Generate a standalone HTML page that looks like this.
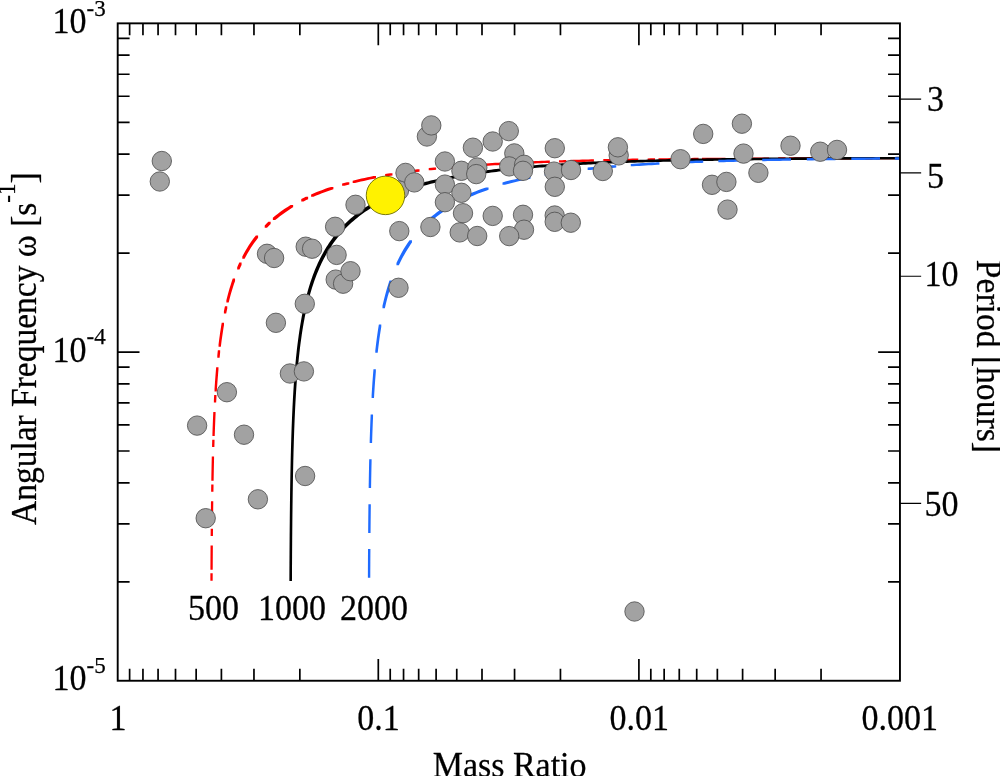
<!DOCTYPE html>
<html><head><meta charset="utf-8"><title>Angular Frequency vs Mass Ratio</title>
<style>html,body{margin:0;padding:0;background:#fff;}svg{display:block;}</style>
</head><body>
<svg width="1000" height="776" viewBox="0 0 1000 776">
<defs><clipPath id="pc"><rect x="117.7" y="23.35" width="781.8000000000001" height="657.4"/></clipPath></defs>
<rect width="1000" height="776" fill="#fff"/>
<g clip-path="url(#pc)" stroke="none">
<path d="M210.37,578.40L210.38,575.29L210.39,573.30L212.69,573.30L212.69,575.60L212.68,577.59L212.67,580.70L210.37,580.70ZM210.42,567.37L210.44,564.34L210.45,561.30L210.47,558.07L210.49,555.06L210.51,551.94L210.53,548.72L210.55,545.56L212.85,545.56L212.85,547.86L212.83,551.02L212.81,554.24L212.79,557.36L212.77,560.37L212.75,563.60L212.74,566.64L212.72,569.67L210.42,569.67ZM210.64,533.80L210.67,530.37L210.68,528.70L212.98,528.70L212.98,531.00L212.97,532.67L212.94,536.10L210.64,536.10ZM210.73,522.82L210.77,519.39L210.80,516.32L210.83,513.26L210.86,510.22L210.90,507.19L210.93,504.18L210.97,501.17L213.27,501.17L213.27,503.47L213.23,506.48L213.20,509.49L213.16,512.52L213.13,515.56L213.10,518.62L213.07,521.69L213.03,525.12L210.73,525.12ZM211.14,489.50L211.19,486.23L211.22,484.40L213.52,484.40L213.52,486.70L213.49,488.53L213.44,491.80L211.14,491.80ZM211.32,478.46L211.38,475.12L211.44,472.04L211.50,468.99L211.56,465.99L211.63,462.66L211.70,459.38L211.77,456.60L214.07,456.60L214.07,458.90L214.00,461.68L213.93,464.96L213.86,468.29L213.80,471.29L213.74,474.34L213.68,477.42L213.62,480.76L211.32,480.76ZM212.08,444.81L212.17,441.74L212.23,439.72L214.53,439.72L214.53,442.02L214.47,444.04L214.38,447.11L212.08,447.11ZM212.42,433.77L212.53,430.51L212.64,427.43L212.76,424.39L212.89,421.12L213.02,417.90L213.15,414.74L213.28,411.92L215.58,411.92L215.58,414.22L215.45,417.04L215.32,420.20L215.19,423.42L215.06,426.69L214.94,429.73L214.83,432.81L214.72,436.07L212.42,436.07ZM213.87,400.15L214.05,396.92L214.16,395.06L216.46,395.06L216.46,397.36L216.35,399.22L216.17,402.45L213.87,402.45ZM214.52,389.09L214.72,386.03L214.93,382.95L215.14,379.93L215.38,376.74L215.63,373.61L215.88,370.54L216.13,367.54L216.17,367.18L218.47,367.18L218.47,369.48L218.43,369.84L218.18,372.84L217.93,375.91L217.68,379.04L217.44,382.23L217.23,385.25L217.02,388.33L216.82,391.39L214.52,391.39ZM217.30,355.39L217.62,352.37L217.85,350.32L220.15,350.32L220.15,352.62L219.92,354.67L219.60,357.69L217.30,357.69ZM218.55,344.41L218.95,341.27L219.34,338.27L219.78,335.16L220.22,332.12L220.67,329.14L221.16,326.06L221.67,323.06L221.71,322.78L224.01,322.78L224.01,325.08L223.97,325.36L223.46,328.36L222.97,331.44L222.52,334.42L222.08,337.46L221.64,340.57L221.25,343.57L220.85,346.71L218.55,346.71ZM223.90,311.19L224.52,308.23L224.97,306.21L227.27,306.21L227.27,308.51L226.82,310.53L226.20,313.49L223.90,313.49ZM226.37,300.21L227.13,297.20L227.91,294.27L228.73,291.29L229.58,288.37L230.49,285.41L231.42,282.51L232.41,279.58L232.76,278.58L235.06,278.58L235.06,280.88L234.71,281.88L233.72,284.81L232.79,287.71L231.88,290.67L231.03,293.59L230.21,296.57L229.43,299.50L228.67,302.51L226.37,302.51ZM237.18,267.24L238.40,264.45L239.26,262.58L241.56,262.58L241.56,264.88L240.70,266.75L239.48,269.54L237.18,269.54ZM242.31,256.41L243.77,253.69L245.29,251.00L246.84,248.38L248.44,245.82L250.12,243.26L251.85,240.76L253.61,238.33L255.48,235.89L255.80,235.47L258.10,235.47L258.10,237.77L257.78,238.19L255.91,240.63L254.15,243.06L252.42,245.56L250.74,248.12L249.14,250.68L247.59,253.30L246.07,255.99L244.61,258.71L242.31,258.71ZM264.71,225.38L266.84,223.26L268.36,221.82L270.66,221.82L270.66,224.12L269.14,225.56L267.01,227.68L264.71,227.68ZM272.86,217.80L275.22,215.84L277.61,213.95L280.05,212.12L282.53,210.33L285.06,208.59L287.64,206.90L290.19,205.30L290.83,204.91L293.13,204.91L293.13,207.21L292.49,207.60L289.94,209.20L287.36,210.89L284.83,212.63L282.35,214.42L279.91,216.25L277.52,218.14L275.16,220.10L272.86,220.10ZM301.26,199.12L303.95,197.78L305.84,196.87L308.14,196.87L308.14,199.17L306.25,200.08L303.56,201.42L301.26,201.42ZM311.12,194.47L313.91,193.27L316.72,192.12L319.56,191.00L322.45,189.90L325.28,188.87L328.15,187.87L331.06,186.89L331.09,186.88L333.39,186.88L333.39,189.18L333.36,189.19L330.45,190.17L327.58,191.17L324.75,192.20L321.86,193.30L319.02,194.42L316.21,195.57L313.42,196.77L311.12,196.77ZM342.11,183.50L345.05,182.68L347.02,182.14L349.32,182.14L349.32,184.44L347.35,184.98L344.41,185.80L342.11,185.80ZM352.69,180.68L355.63,179.96L358.56,179.26L361.53,178.59L364.52,177.93L367.55,177.28L370.50,176.68L373.47,176.09L373.72,176.04L376.02,176.04L376.02,178.34L375.77,178.39L372.80,178.98L369.85,179.58L366.82,180.23L363.83,180.89L360.86,181.56L357.93,182.26L354.99,182.98L352.69,182.98ZM385.14,173.96L388.20,173.45L390.17,173.13L392.47,173.13L392.47,175.43L390.50,175.75L387.44,176.26L385.14,176.26ZM395.94,172.23L398.99,171.77L401.99,171.34L405.02,170.92L408.07,170.50L411.15,170.10L414.26,169.71L417.23,169.35L419.53,169.35L419.53,171.65L416.56,172.01L413.45,172.40L410.37,172.80L407.32,173.22L404.29,173.64L401.29,174.07L398.24,174.53L395.94,174.53ZM428.73,168.04L431.80,167.72L433.81,167.51L436.11,167.51L436.11,169.81L434.10,170.02L431.03,170.34L428.73,170.34ZM439.53,166.95L442.54,166.67L445.62,166.38L448.73,166.11L451.85,165.84L454.85,165.59L457.88,165.35L460.67,165.13L462.97,165.13L462.97,167.43L460.18,167.65L457.15,167.89L454.15,168.14L451.03,168.41L447.92,168.68L444.84,168.97L441.83,169.25L439.53,169.25ZM472.07,164.30L475.09,164.09L477.16,163.95L479.46,163.95L479.46,166.25L477.39,166.39L474.37,166.60L472.07,166.60ZM482.90,163.59L486.00,163.40L489.07,163.21L492.16,163.03L495.27,162.86L498.40,162.69L501.55,162.52L504.08,162.39L506.38,162.39L506.38,164.69L503.85,164.82L500.70,164.99L497.57,165.16L494.46,165.33L491.37,165.51L488.30,165.70L485.20,165.89L482.90,165.89ZM515.50,161.85L518.54,161.71L520.59,161.62L522.89,161.62L522.89,163.92L520.84,164.01L517.80,164.15L515.50,164.15ZM526.34,161.38L529.39,161.25L532.55,161.13L535.56,161.01L538.58,160.90L541.62,160.79L544.68,160.68L547.54,160.59L549.84,160.59L549.84,162.89L546.98,162.98L543.92,163.09L540.88,163.20L537.86,163.31L534.85,163.43L531.69,163.55L528.64,163.68L526.34,163.68ZM558.97,160.22L562.10,160.13L564.07,160.07L566.37,160.07L566.37,162.37L564.40,162.43L561.27,162.52L558.97,162.52ZM569.96,159.91L573.04,159.82L576.07,159.74L579.12,159.66L582.18,159.59L585.25,159.51L588.34,159.44L591.44,159.37L591.62,159.37L593.92,159.37L593.92,161.67L593.74,161.67L590.64,161.74L587.55,161.81L584.48,161.89L581.42,161.96L578.37,162.04L575.34,162.12L572.26,162.21L569.96,162.21ZM603.31,159.12L606.40,159.06L608.40,159.02L610.70,159.02L610.70,161.32L608.70,161.36L605.61,161.42L603.31,161.42ZM614.30,158.91L617.31,158.85L620.34,158.80L623.39,158.75L626.45,158.70L629.53,158.65L632.61,158.60L635.71,158.55L635.97,158.55L638.27,158.55L638.27,160.85L638.01,160.85L634.91,160.90L631.83,160.95L628.75,161.00L625.69,161.05L622.64,161.10L619.61,161.15L616.60,161.21L614.30,161.21ZM647.65,158.38L650.80,158.34L652.75,158.32L655.05,158.32L655.05,160.62L653.10,160.64L649.95,160.68L647.65,160.68ZM658.50,158.24L661.55,158.21L664.56,158.17L667.58,158.14L670.62,158.10L673.66,158.07L676.72,158.04L679.71,158.01L682.01,158.01L682.01,160.31L679.02,160.34L675.96,160.37L672.92,160.40L669.88,160.44L666.86,160.47L663.85,160.51L660.80,160.54L658.50,160.54ZM691.15,157.90L694.24,157.87L696.25,157.85L698.55,157.85L698.55,160.15L696.54,160.17L693.45,160.20L691.15,160.20ZM702.00,157.80L705.13,157.78L708.30,157.75L711.48,157.73L714.66,157.70L717.86,157.68L721.08,157.66L723.21,157.64L725.51,157.64L725.51,159.94L723.38,159.96L720.16,159.98L716.96,160.00L713.78,160.03L710.60,160.05L707.43,160.08L704.30,160.10L702.00,160.10ZM734.65,157.57L737.73,157.55L739.75,157.54L742.05,157.54L742.05,159.84L740.03,159.85L736.95,159.87L734.65,159.87ZM745.50,157.51L748.70,157.49L751.80,157.47L754.90,157.46L758.01,157.44L761.14,157.42L764.27,157.41L766.71,157.40L769.01,157.40L769.01,159.70L766.57,159.71L763.44,159.72L760.31,159.74L757.20,159.76L754.10,159.77L751.00,159.79L747.80,159.81L745.50,159.81ZM778.14,157.35L781.22,157.33L783.24,157.33L785.54,157.33L785.54,159.63L783.52,159.63L780.44,159.65L778.14,159.65ZM789.00,157.30L792.21,157.29L795.44,157.28L798.45,157.27L801.46,157.26L804.49,157.25L807.52,157.24L810.21,157.23L812.51,157.23L812.51,159.53L809.82,159.54L806.79,159.55L803.76,159.56L800.75,159.57L797.74,159.58L794.51,159.59L791.30,159.60L789.00,159.60ZM821.64,157.20L824.70,157.19L826.74,157.18L829.04,157.18L829.04,159.48L827.00,159.49L823.94,159.50L821.64,159.50ZM832.50,157.17L835.66,157.16L838.78,157.15L841.90,157.14L845.04,157.14L848.18,157.13L851.33,157.12L853.71,157.12L856.01,157.12L856.01,159.42L853.63,159.42L850.48,159.43L847.34,159.44L844.20,159.44L841.08,159.45L837.96,159.46L834.80,159.47L832.50,159.47ZM865.14,157.09L868.20,157.09L870.24,157.08L872.54,157.08L872.54,159.38L870.50,159.39L867.44,159.39L865.14,159.39ZM876.00,157.07L879.08,157.07L882.31,157.06L885.55,157.06L888.80,157.05L891.81,157.05L894.82,157.04L897.21,157.04L899.51,157.04L899.51,159.34L897.12,159.34L894.11,159.35L891.10,159.35L887.85,159.36L884.61,159.36L881.38,159.37L878.30,159.37L876.00,159.37Z" fill="#ff0000" />
<path d="M289.37,578.40L289.38,575.80L289.39,573.18L289.40,570.67L289.41,568.06L289.43,565.48L289.44,562.70L289.46,560.07L289.47,557.31L289.49,554.80L289.50,552.22L289.52,549.57L289.54,546.86L289.56,544.10L289.58,541.29L289.60,538.46L289.62,535.59L289.64,532.71L289.67,529.81L289.69,526.90L289.72,523.98L289.75,521.07L289.77,518.16L289.80,515.25L289.83,512.36L289.87,509.48L289.90,506.62L289.93,503.77L289.97,500.94L290.01,498.13L290.04,495.35L290.08,492.59L290.12,489.85L290.17,487.14L290.21,484.46L290.25,481.80L290.30,479.17L290.34,476.57L290.39,473.99L290.44,471.44L290.49,468.92L290.55,466.08L290.61,463.27L290.67,460.49L290.73,457.76L290.80,455.06L290.87,452.39L290.93,449.76L291.00,447.16L291.08,444.60L291.15,442.07L291.23,439.27L291.32,436.50L291.41,433.78L291.50,431.09L291.59,428.45L291.69,425.84L291.79,423.28L291.89,420.74L292.00,417.97L292.12,415.25L292.24,412.56L292.36,409.92L292.48,407.31L292.61,404.75L292.74,402.23L292.88,399.49L293.03,396.80L293.19,394.16L293.34,391.55L293.50,388.99L293.67,386.47L293.85,383.76L294.03,381.10L294.22,378.48L294.42,375.91L294.62,373.37L294.82,370.88L295.04,368.23L295.27,365.62L295.51,363.05L295.75,360.53L296.01,357.85L296.28,355.23L296.55,352.65L296.83,350.11L297.12,347.62L297.43,345.00L297.75,342.42L298.08,339.89L298.42,337.40L298.78,334.79L299.15,332.23L299.53,329.71L299.92,327.24L300.34,324.66L300.77,322.13L301.20,319.64L301.68,317.06L302.16,314.52L302.66,312.03L303.19,309.46L303.73,306.93L304.29,304.45L304.88,301.89L305.49,299.38L306.12,296.91L306.79,294.38L307.47,291.89L308.16,289.46L308.91,286.96L309.67,284.51L310.45,282.10L311.27,279.64L312.12,277.23L312.98,274.87L313.90,272.46L314.84,270.09L315.80,267.78L316.82,265.42L317.86,263.11L318.97,260.76L320.09,258.45L321.24,256.20L322.46,253.92L323.70,251.68L324.97,249.49L326.27,247.35L327.64,245.18L329.03,243.06L330.45,240.98L331.96,238.88L333.49,236.83L335.05,234.82L336.64,232.86L338.26,230.95L339.97,229.01L341.71,227.12L343.49,225.27L345.29,223.46L347.13,221.70L349.00,219.98L350.90,218.29L352.83,216.65L354.80,215.04L356.80,213.47L358.84,211.94L360.90,210.44L363.00,208.97L365.13,207.54L367.30,206.15L369.43,204.82L371.58,203.53L373.77,202.27L375.99,201.04L378.24,199.83L380.52,198.65L382.84,197.50L385.10,196.41L387.39,195.35L389.72,194.31L392.07,193.29L394.45,192.30L396.78,191.36L399.13,190.44L401.51,189.55L403.92,188.67L406.36,187.81L408.73,187.00L411.13,186.21L413.56,185.43L416.01,184.67L418.49,183.93L420.90,183.23L423.33,182.54L425.78,181.87L428.26,181.22L430.77,180.57L433.20,179.97L435.65,179.38L438.12,178.80L440.62,178.23L443.13,177.68L445.67,177.13L448.13,176.62L450.61,176.12L453.11,175.63L455.62,175.15L458.16,174.68L460.73,174.22L463.19,173.79L465.68,173.37L468.19,172.95L470.72,172.55L473.26,172.15L475.83,171.76L478.42,171.38L480.90,171.02L483.41,170.67L485.93,170.32L488.47,169.99L491.02,169.66L493.60,169.33L496.19,169.02L498.68,168.72L501.18,168.43L503.70,168.15L506.23,167.87L508.78,167.60L511.35,167.33L513.93,167.07L516.53,166.81L519.15,166.56L521.65,166.32L524.16,166.09L526.69,165.87L529.24,165.65L531.80,165.43L534.37,165.22L536.96,165.01L539.56,164.80L542.18,164.60L544.68,164.42L547.19,164.24L549.71,164.06L552.24,163.88L554.79,163.71L557.35,163.54L559.93,163.38L562.52,163.21L565.12,163.06L567.73,162.90L570.36,162.75L573.01,162.60L575.51,162.46L578.03,162.32L580.57,162.19L583.11,162.06L585.67,161.93L588.23,161.81L590.81,161.68L593.41,161.56L596.01,161.44L598.63,161.33L601.26,161.21L603.90,161.10L606.55,160.99L609.06,160.89L611.58,160.79L614.11,160.70L616.65,160.60L619.20,160.51L621.76,160.42L624.34,160.33L626.92,160.24L629.51,160.16L632.12,160.07L634.74,159.99L637.36,159.91L640.00,159.83L642.65,159.75L645.31,159.67L647.81,159.60L650.33,159.53L652.85,159.47L655.38,159.40L657.92,159.34L660.47,159.27L663.04,159.21L665.61,159.15L668.19,159.09L670.78,159.03L673.38,158.97L675.98,158.92L678.60,158.86L681.23,158.81L683.87,158.75L686.52,158.70L689.18,158.65L691.84,158.60L694.52,158.55L697.03,158.51L699.54,158.46L702.07,158.42L704.60,158.38L707.14,158.34L709.69,158.30L712.25,158.26L714.81,158.22L717.39,158.18L719.97,158.14L722.56,158.11L725.16,158.07L727.77,158.04L730.39,158.00L733.01,157.97L735.65,157.93L738.29,157.90L740.94,157.87L743.60,157.84L746.27,157.81L748.94,157.78L751.63,157.75L754.13,157.72L756.64,157.70L759.15,157.67L761.68,157.65L764.21,157.62L766.75,157.60L769.29,157.57L771.84,157.55L774.40,157.53L776.97,157.50L779.55,157.48L782.13,157.46L784.72,157.44L787.31,157.42L789.92,157.40L792.53,157.38L795.15,157.36L797.78,157.34L800.41,157.32L803.05,157.31L805.70,157.29L808.36,157.27L811.02,157.25L813.69,157.24L816.37,157.22L819.06,157.20L821.75,157.19L824.45,157.17L827.16,157.16L829.67,157.14L832.18,157.13L834.70,157.12L837.23,157.10L839.76,157.09L842.30,157.08L844.84,157.07L847.39,157.06L849.95,157.04L852.52,157.03L855.09,157.02L857.66,157.01L860.25,157.00L862.84,156.99L865.43,156.98L868.03,156.97L870.64,156.96L873.26,156.95L875.88,156.94L878.51,156.93L881.14,156.92L883.78,156.91L886.43,156.91L889.08,156.90L891.74,156.89L894.41,156.88L897.08,156.87L898.20,156.87L900.80,156.87L900.80,159.47L899.68,159.47L897.01,159.48L894.34,159.49L891.68,159.50L889.03,159.51L886.38,159.51L883.74,159.52L881.11,159.53L878.48,159.54L875.86,159.55L873.24,159.56L870.63,159.57L868.03,159.58L865.44,159.59L862.85,159.60L860.26,159.61L857.69,159.62L855.12,159.63L852.55,159.64L849.99,159.66L847.44,159.67L844.90,159.68L842.36,159.69L839.83,159.70L837.30,159.72L834.78,159.73L832.27,159.74L829.76,159.76L827.05,159.77L824.35,159.79L821.66,159.80L818.97,159.82L816.29,159.84L813.62,159.85L810.96,159.87L808.30,159.89L805.65,159.91L803.01,159.92L800.38,159.94L797.75,159.96L795.13,159.98L792.52,160.00L789.91,160.02L787.32,160.04L784.73,160.06L782.15,160.08L779.57,160.10L777.00,160.13L774.44,160.15L771.89,160.17L769.35,160.20L766.81,160.22L764.28,160.25L761.75,160.27L759.24,160.30L756.73,160.32L754.23,160.35L751.54,160.38L748.87,160.41L746.20,160.44L743.54,160.47L740.89,160.50L738.25,160.53L735.61,160.57L732.99,160.60L730.37,160.64L727.76,160.67L725.16,160.71L722.57,160.74L719.99,160.78L717.41,160.82L714.85,160.86L712.29,160.90L709.74,160.94L707.20,160.98L704.67,161.02L702.14,161.06L699.63,161.11L697.12,161.15L694.44,161.20L691.78,161.25L689.12,161.30L686.47,161.35L683.83,161.41L681.20,161.46L678.58,161.52L675.98,161.57L673.38,161.63L670.79,161.69L668.21,161.75L665.64,161.81L663.07,161.87L660.52,161.94L657.98,162.00L655.45,162.07L652.93,162.13L650.41,162.20L647.91,162.27L645.25,162.35L642.60,162.43L639.96,162.51L637.34,162.59L634.72,162.67L632.11,162.76L629.52,162.84L626.94,162.93L624.36,163.02L621.80,163.11L619.25,163.20L616.71,163.30L614.18,163.39L611.66,163.49L609.15,163.59L606.50,163.70L603.86,163.81L601.23,163.93L598.61,164.04L596.01,164.16L593.41,164.28L590.83,164.41L588.27,164.53L585.71,164.66L583.17,164.79L580.63,164.92L578.11,165.06L575.61,165.20L572.96,165.35L570.33,165.50L567.72,165.66L565.12,165.81L562.53,165.98L559.95,166.14L557.39,166.31L554.84,166.48L552.31,166.66L549.79,166.84L547.28,167.02L544.78,167.20L542.16,167.40L539.56,167.61L536.97,167.82L534.40,168.03L531.84,168.25L529.29,168.47L526.76,168.69L524.25,168.92L521.75,169.16L519.13,169.41L516.53,169.67L513.95,169.93L511.38,170.20L508.83,170.47L506.30,170.75L503.78,171.03L501.28,171.32L498.79,171.62L496.20,171.93L493.62,172.26L491.07,172.59L488.53,172.92L486.01,173.27L483.50,173.62L481.02,173.98L478.43,174.36L475.86,174.75L473.32,175.15L470.79,175.55L468.28,175.97L465.79,176.39L463.33,176.82L460.76,177.28L458.22,177.75L455.71,178.23L453.21,178.72L450.73,179.22L448.27,179.73L445.73,180.28L443.22,180.83L440.72,181.40L438.25,181.98L435.80,182.57L433.37,183.17L430.86,183.82L428.38,184.47L425.93,185.14L423.50,185.83L421.09,186.53L418.61,187.27L416.16,188.03L413.73,188.81L411.33,189.60L408.96,190.41L406.52,191.27L404.11,192.15L401.73,193.04L399.38,193.96L397.05,194.90L394.67,195.89L392.32,196.91L389.99,197.95L387.70,199.01L385.44,200.10L383.12,201.25L380.84,202.43L378.59,203.64L376.37,204.87L374.18,206.13L372.03,207.42L369.90,208.75L367.73,210.14L365.60,211.57L363.50,213.04L361.44,214.54L359.40,216.07L357.40,217.64L355.43,219.25L353.50,220.89L351.60,222.58L349.73,224.30L347.89,226.06L346.09,227.87L344.31,229.72L342.57,231.61L340.86,233.55L339.24,235.46L337.65,237.42L336.09,239.43L334.56,241.48L333.05,243.58L331.63,245.66L330.24,247.78L328.87,249.95L327.57,252.09L326.30,254.28L325.06,256.52L323.84,258.80L322.69,261.05L321.57,263.36L320.46,265.71L319.42,268.02L318.40,270.38L317.44,272.69L316.50,275.06L315.58,277.47L314.72,279.83L313.87,282.24L313.05,284.70L312.27,287.11L311.51,289.56L310.76,292.06L310.07,294.49L309.39,296.98L308.72,299.51L308.09,301.98L307.48,304.49L306.89,307.05L306.33,309.53L305.79,312.06L305.26,314.63L304.76,317.12L304.28,319.66L303.80,322.24L303.37,324.73L302.94,327.26L302.52,329.84L302.13,332.31L301.75,334.83L301.38,337.39L301.02,340.00L300.68,342.49L300.35,345.02L300.03,347.60L299.72,350.22L299.43,352.71L299.15,355.25L298.88,357.83L298.61,360.45L298.35,363.13L298.11,365.65L297.87,368.22L297.64,370.83L297.42,373.48L297.22,375.97L297.02,378.51L296.82,381.08L296.63,383.70L296.45,386.36L296.27,389.07L296.10,391.59L295.94,394.15L295.79,396.76L295.63,399.40L295.48,402.09L295.34,404.83L295.21,407.35L295.08,409.91L294.96,412.52L294.84,415.16L294.72,417.85L294.60,420.57L294.49,423.34L294.39,425.88L294.29,428.44L294.19,431.05L294.10,433.69L294.01,436.38L293.92,439.10L293.83,441.87L293.75,444.67L293.68,447.20L293.60,449.76L293.53,452.36L293.47,454.99L293.40,457.66L293.33,460.36L293.27,463.09L293.21,465.87L293.15,468.68L293.09,471.52L293.04,474.04L292.99,476.59L292.94,479.17L292.90,481.77L292.85,484.40L292.81,487.06L292.77,489.74L292.72,492.45L292.68,495.19L292.64,497.95L292.61,500.73L292.57,503.54L292.53,506.37L292.50,509.22L292.47,512.08L292.43,514.96L292.40,517.85L292.37,520.76L292.35,523.67L292.32,526.58L292.29,529.50L292.27,532.41L292.24,535.31L292.22,538.19L292.20,541.06L292.18,543.89L292.16,546.70L292.14,549.46L292.12,552.17L292.10,554.82L292.09,557.40L292.07,559.91L292.06,562.67L292.04,565.30L292.03,568.08L292.01,570.66L292.00,573.27L291.99,575.78L291.98,578.40L291.97,581.00L289.37,581.00Z" fill="#000" />
<path d="M367.88,575.40L367.89,572.29L367.90,569.05L367.92,565.89L367.94,562.70L367.95,559.59L367.97,556.31L367.99,553.23L368.01,550.04L368.02,549.10L370.42,549.10L370.42,551.50L370.41,552.44L370.39,555.63L370.37,558.71L370.35,561.99L370.34,565.10L370.32,568.29L370.30,571.45L370.29,574.69L370.28,577.80L367.88,577.80ZM368.16,530.50L368.18,527.25L368.21,524.12L368.24,520.99L368.27,517.86L368.31,514.75L368.34,511.64L368.37,508.55L368.41,505.48L368.43,504.20L370.83,504.20L370.83,506.60L370.81,507.88L370.77,510.95L370.74,514.04L370.71,517.15L370.67,520.26L370.64,523.39L370.61,526.52L370.58,529.65L370.56,532.90L368.16,532.90ZM368.69,485.50L368.74,482.19L368.80,479.01L368.85,475.88L368.91,472.78L368.97,469.72L369.03,466.70L369.10,463.40L369.18,460.14L369.20,459.21L371.60,459.21L371.60,461.61L371.58,462.54L371.50,465.80L371.43,469.10L371.37,472.12L371.31,475.18L371.25,478.28L371.20,481.41L371.14,484.59L371.09,487.90L368.69,487.90ZM369.69,440.72L369.78,437.57L369.89,434.43L369.99,431.34L370.10,428.30L370.22,425.05L370.34,421.85L370.47,418.71L370.60,415.63L370.65,414.43L373.05,414.43L373.05,416.83L373.00,418.03L372.87,421.11L372.74,424.25L372.62,427.45L372.50,430.70L372.39,433.74L372.29,436.83L372.18,439.97L372.09,443.12L369.69,443.12ZM371.60,395.53L371.79,392.35L371.98,389.27L372.18,386.26L372.39,383.09L372.61,379.98L372.84,376.93L373.09,373.75L373.34,370.63L373.45,369.30L375.85,369.30L375.85,371.70L375.74,373.03L375.49,376.15L375.24,379.33L375.01,382.38L374.79,385.49L374.58,388.66L374.38,391.67L374.19,394.75L374.00,397.93L371.60,397.93ZM375.29,350.46L375.65,347.39L376.02,344.28L376.41,341.23L376.80,338.24L377.23,335.17L377.66,332.16L378.13,329.07L378.61,326.04L378.88,324.41L381.28,324.41L381.28,326.81L381.01,328.44L380.53,331.47L380.06,334.56L379.63,337.57L379.20,340.64L378.81,343.63L378.42,346.68L378.05,349.79L377.69,352.86L375.29,352.86ZM382.48,305.84L383.15,302.90L383.86,299.93L384.62,296.92L385.40,293.97L386.23,290.99L387.08,288.08L387.98,285.13L388.90,282.24L389.49,280.50L391.89,280.50L391.89,282.90L391.30,284.64L390.38,287.53L389.48,290.48L388.63,293.39L387.80,296.37L387.02,299.32L386.26,302.33L385.55,305.30L384.88,308.24L382.48,308.24ZM396.46,262.91L397.78,260.13L399.13,257.41L400.56,254.67L402.03,252.02L403.57,249.35L405.15,246.75L406.77,244.23L408.47,241.70L409.56,240.15L411.96,240.15L411.96,242.55L410.87,244.10L409.17,246.63L407.55,249.15L405.97,251.75L404.43,254.42L402.96,257.07L401.53,259.81L400.18,262.53L398.86,265.31L396.46,265.31ZM423.12,224.15L425.28,222.06L427.50,220.00L429.76,218.00L432.08,216.06L434.44,214.17L436.84,212.33L439.30,210.54L441.79,208.80L443.53,207.64L445.93,207.64L445.93,210.04L444.19,211.20L441.70,212.94L439.24,214.73L436.84,216.57L434.48,218.46L432.16,220.40L429.90,222.40L427.68,224.46L425.52,226.55L423.12,226.55ZM461.79,197.30L464.57,195.99L467.35,194.72L470.11,193.52L472.90,192.35L475.74,191.21L478.61,190.10L481.45,189.04L484.32,188.02L486.14,187.39L488.54,187.39L488.54,189.79L486.72,190.42L483.85,191.44L481.01,192.50L478.14,193.61L475.30,194.75L472.51,195.92L469.75,197.12L466.97,198.39L464.19,199.70L461.79,199.70ZM502.49,182.39L505.44,181.59L508.34,180.84L511.28,180.10L514.25,179.38L517.25,178.68L520.19,178.02L523.16,177.37L526.16,176.74L528.08,176.35L530.48,176.35L530.48,178.75L528.56,179.14L525.56,179.77L522.59,180.42L519.65,181.08L516.65,181.78L513.68,182.50L510.74,183.24L507.84,183.99L504.89,184.79L502.49,184.79ZM544.77,173.29L547.73,172.81L550.76,172.33L553.83,171.86L556.80,171.42L559.81,170.99L562.84,170.57L565.89,170.16L568.97,169.75L570.79,169.52L573.19,169.52L573.19,171.92L571.37,172.15L568.29,172.56L565.24,172.97L562.21,173.39L559.20,173.82L556.23,174.26L553.16,174.73L550.13,175.21L547.17,175.69L544.77,175.69ZM587.65,167.58L590.66,167.27L593.70,166.97L596.77,166.67L599.85,166.38L602.96,166.09L605.97,165.83L608.99,165.57L612.04,165.31L613.84,165.16L616.24,165.16L616.24,167.56L614.44,167.71L611.39,167.97L608.37,168.23L605.36,168.49L602.25,168.78L599.17,169.07L596.10,169.37L593.06,169.67L590.05,169.98L587.65,169.98ZM630.76,163.91L633.82,163.70L636.90,163.50L640.00,163.30L643.12,163.11L646.12,162.93L649.13,162.76L652.17,162.59L655.23,162.42L657.01,162.32L659.41,162.32L659.41,164.72L657.63,164.82L654.57,164.99L651.53,165.16L648.52,165.33L645.52,165.51L642.40,165.70L639.30,165.90L636.22,166.10L633.16,166.31L630.76,166.31ZM674.54,161.47L677.54,161.34L680.59,161.21L683.66,161.08L686.75,160.95L689.85,160.83L692.97,160.71L696.10,160.59L699.11,160.49L700.82,160.43L703.22,160.43L703.22,162.83L701.51,162.89L698.50,162.99L695.37,163.11L692.25,163.23L689.15,163.35L686.06,163.48L682.99,163.61L679.94,163.74L676.94,163.87L674.54,163.87ZM718.36,159.86L721.47,159.77L724.59,159.68L727.73,159.59L730.89,159.51L733.90,159.43L736.93,159.35L739.97,159.28L743.02,159.20L744.65,159.16L747.05,159.16L747.05,161.56L745.42,161.60L742.37,161.68L739.33,161.75L736.30,161.83L733.29,161.91L730.13,161.99L726.99,162.08L723.87,162.17L720.76,162.26L718.36,162.26ZM762.24,158.78L765.27,158.72L768.43,158.66L771.44,158.61L774.46,158.55L777.50,158.50L780.54,158.45L783.60,158.40L786.67,158.35L788.54,158.32L790.94,158.32L790.94,160.72L789.07,160.75L786.00,160.80L782.94,160.85L779.90,160.90L776.86,160.95L773.84,161.01L770.83,161.06L767.67,161.12L764.64,161.18L762.24,161.18ZM806.79,158.06L809.93,158.01L813.10,157.97L816.11,157.94L819.14,157.90L822.17,157.86L825.21,157.83L828.27,157.80L831.33,157.76L833.09,157.74L835.49,157.74L835.49,160.14L833.73,160.16L830.67,160.20L827.61,160.23L824.57,160.26L821.54,160.30L818.51,160.34L815.50,160.37L812.33,160.41L809.19,160.46L806.79,160.46ZM851.33,157.57L854.41,157.54L857.57,157.51L860.74,157.49L863.92,157.46L866.92,157.44L869.94,157.41L872.96,157.39L876.00,157.37L877.63,157.36L880.03,157.36L880.03,159.76L878.40,159.77L875.36,159.79L872.34,159.81L869.32,159.84L866.32,159.86L863.14,159.89L859.97,159.91L856.81,159.94L853.73,159.97L851.33,159.97ZM894.83,157.25L897.91,157.23L898.30,157.23L900.70,157.23L900.70,159.63L900.31,159.63L897.23,159.65L894.83,159.65Z" fill="#1f6bff" />
</g>
<g fill="#a2a2a2" stroke="#505050" stroke-width="0.85">
<circle cx="161.8" cy="161" r="9.7"/>
<circle cx="159.8" cy="181.5" r="9.7"/>
<circle cx="267" cy="253.8" r="9.7"/>
<circle cx="274.1" cy="258" r="9.7"/>
<circle cx="305.7" cy="246.7" r="9.7"/>
<circle cx="312.1" cy="248.7" r="9.7"/>
<circle cx="335.1" cy="226.8" r="9.7"/>
<circle cx="355.5" cy="204.8" r="9.7"/>
<circle cx="336.6" cy="254.9" r="9.7"/>
<circle cx="335.7" cy="279.6" r="9.7"/>
<circle cx="343.1" cy="283.7" r="9.7"/>
<circle cx="350.5" cy="271.2" r="9.7"/>
<circle cx="304.8" cy="303.8" r="9.7"/>
<circle cx="275.9" cy="322.8" r="9.7"/>
<circle cx="289.9" cy="373.5" r="9.7"/>
<circle cx="303.9" cy="371.4" r="9.7"/>
<circle cx="226.9" cy="392.2" r="9.7"/>
<circle cx="197.1" cy="425.6" r="9.7"/>
<circle cx="244" cy="434.7" r="9.7"/>
<circle cx="305.1" cy="476" r="9.7"/>
<circle cx="257.9" cy="499.3" r="9.7"/>
<circle cx="205.7" cy="518.2" r="9.7"/>
<circle cx="634.5" cy="611.5" r="9.7"/>
<circle cx="426.9" cy="136.5" r="9.7"/>
<circle cx="431.3" cy="125.4" r="9.7"/>
<circle cx="405.5" cy="172.9" r="9.7"/>
<circle cx="399" cy="190.5" r="9.7"/>
<circle cx="414.3" cy="182.4" r="9.7"/>
<circle cx="444.9" cy="161.5" r="9.7"/>
<circle cx="444.9" cy="184.6" r="9.7"/>
<circle cx="461.4" cy="192.8" r="9.7"/>
<circle cx="444.9" cy="202.2" r="9.7"/>
<circle cx="461.4" cy="170.8" r="9.7"/>
<circle cx="477.3" cy="167.5" r="9.7"/>
<circle cx="476.2" cy="174.1" r="9.7"/>
<circle cx="472.9" cy="147.7" r="9.7"/>
<circle cx="492.7" cy="141.5" r="9.7"/>
<circle cx="508.8" cy="131.1" r="9.7"/>
<circle cx="514.3" cy="153.4" r="9.7"/>
<circle cx="509.2" cy="166.4" r="9.7"/>
<circle cx="524.1" cy="164.8" r="9.7"/>
<circle cx="523" cy="170.8" r="9.7"/>
<circle cx="463" cy="213.2" r="9.7"/>
<circle cx="492.7" cy="215.9" r="9.7"/>
<circle cx="523" cy="214.8" r="9.7"/>
<circle cx="399.3" cy="231.1" r="9.7"/>
<circle cx="430.4" cy="227" r="9.7"/>
<circle cx="459.7" cy="232.4" r="9.7"/>
<circle cx="477.2" cy="236" r="9.7"/>
<circle cx="524" cy="229.7" r="9.7"/>
<circle cx="509.2" cy="236.1" r="9.7"/>
<circle cx="398.5" cy="287.8" r="9.7"/>
<circle cx="554.8" cy="148.2" r="9.7"/>
<circle cx="554.0" cy="171.6" r="9.7"/>
<circle cx="554.8" cy="186.8" r="9.7"/>
<circle cx="571" cy="170" r="9.7"/>
<circle cx="602.8" cy="171" r="9.7"/>
<circle cx="618.7" cy="155.4" r="9.7"/>
<circle cx="617.9" cy="147.3" r="9.7"/>
<circle cx="554.7" cy="215.5" r="9.7"/>
<circle cx="554.7" cy="221.8" r="9.7"/>
<circle cx="570.8" cy="222.7" r="9.7"/>
<circle cx="680.5" cy="159.2" r="9.7"/>
<circle cx="703.2" cy="133.9" r="9.7"/>
<circle cx="741.9" cy="123.7" r="9.7"/>
<circle cx="743.5" cy="153.6" r="9.7"/>
<circle cx="758.4" cy="172.8" r="9.7"/>
<circle cx="712" cy="184.8" r="9.7"/>
<circle cx="726.4" cy="181.9" r="9.7"/>
<circle cx="727.5" cy="209.6" r="9.7"/>
<circle cx="790.5" cy="145.7" r="9.7"/>
<circle cx="820.2" cy="151.7" r="9.7"/>
<circle cx="837" cy="149.9" r="9.7"/>
</g>
<circle cx="385.5" cy="195.4" r="19.25" fill="#fff200" stroke="#6b6b00" stroke-width="0.9"/>
<rect x="117.70" y="23.35" width="782.25" height="657.40" fill="none" stroke="#000" stroke-width="1.9"/><path d="M378.30,680.75V658.95M378.30,23.35V45.15M638.90,680.75V658.95M638.90,23.35V45.15M299.85,680.75V668.85M299.85,23.35V35.25M253.96,680.75V668.85M253.96,23.35V35.25M221.40,680.75V668.85M221.40,23.35V35.25M196.15,680.75V668.85M196.15,23.35V35.25M175.51,680.75V668.85M175.51,23.35V35.25M158.07,680.75V668.85M158.07,23.35V35.25M142.95,680.75V668.85M142.95,23.35V35.25M129.62,680.75V668.85M129.62,23.35V35.25M560.45,680.75V668.85M560.45,23.35V35.25M514.56,680.75V668.85M514.56,23.35V35.25M482.00,680.75V668.85M482.00,23.35V35.25M456.75,680.75V668.85M456.75,23.35V35.25M436.11,680.75V668.85M436.11,23.35V35.25M418.67,680.75V668.85M418.67,23.35V35.25M403.55,680.75V668.85M403.55,23.35V35.25M390.22,680.75V668.85M390.22,23.35V35.25M821.05,680.75V668.85M821.05,23.35V35.25M775.16,680.75V668.85M775.16,23.35V35.25M742.60,680.75V668.85M742.60,23.35V35.25M717.35,680.75V668.85M717.35,23.35V35.25M696.71,680.75V668.85M696.71,23.35V35.25M679.27,680.75V668.85M679.27,23.35V35.25M664.15,680.75V668.85M664.15,23.35V35.25M650.82,680.75V668.85M650.82,23.35V35.25M117.70,352.05H139.50M899.95,352.05H878.15M117.70,581.80H129.60M899.95,581.80H888.05M117.70,523.92H129.60M899.95,523.92H888.05M117.70,482.85H129.60M899.95,482.85H888.05M117.70,451.00H129.60M899.95,451.00H888.05M117.70,424.97H129.60M899.95,424.97H888.05M117.70,402.97H129.60M899.95,402.97H888.05M117.70,383.90H129.60M899.95,383.90H888.05M117.70,367.09H129.60M899.95,367.09H888.05M117.70,253.10H129.60M899.95,253.10H888.05M117.70,195.22H129.60M899.95,195.22H888.05M117.70,154.15H129.60M899.95,154.15H888.05M117.70,122.30H129.60M899.95,122.30H888.05M117.70,96.27H129.60M899.95,96.27H888.05M117.70,74.27H129.60M899.95,74.27H888.05M117.70,55.20H129.60M899.95,55.20H888.05M117.70,38.39H129.60M899.95,38.39H888.05" stroke="#000" stroke-width="1.7" fill="none"/><path d="M899.95,99.10H921.15M899.95,172.90H921.15M899.95,276.20H921.15M899.95,503.40H921.15" stroke="#000" stroke-width="1.1" fill="none"/>
<g font-family="Liberation Serif, serif" font-size="34" fill="#000" stroke="#000" stroke-width="0.25"><text transform="translate(86.50,32.85) scale(1,1.06)" text-anchor="end">10</text><text x="86.5" y="15.65" font-size="23">-3</text><text transform="translate(86.50,361.55) scale(1,1.06)" text-anchor="end">10</text><text x="86.5" y="344.35" font-size="23">-4</text><text transform="translate(86.50,690.25) scale(1,1.06)" text-anchor="end">10</text><text x="86.5" y="673.05" font-size="23">-5</text><text transform="translate(118.00,729.60) scale(1,1.06)" text-anchor="middle">1</text><text transform="translate(378.60,729.60) scale(1,1.06)" text-anchor="middle">0.1</text><text transform="translate(639.20,729.60) scale(1,1.06)" text-anchor="middle">0.01</text><text transform="translate(899.80,729.60) scale(1,1.06)" text-anchor="middle">0.001</text><text transform="translate(213.60,620.00) scale(1,1.06)" text-anchor="middle">500</text><text transform="translate(292.00,620.00) scale(1,1.06)" text-anchor="middle">1000</text><text transform="translate(374.00,620.00) scale(1,1.06)" text-anchor="middle">2000</text><text transform="translate(927.00,110.60) scale(1,1.06)">3</text><text transform="translate(927.00,187.90) scale(1,1.06)">5</text><text transform="translate(924.50,286.20) scale(1,1.06)">10</text><text transform="translate(924.50,515.60) scale(1,1.06)">50</text><text transform="translate(509.60,776.70) scale(1,1.06)" text-anchor="middle">Mass Ratio</text><text transform="translate(35.60,525.00) rotate(-90) scale(1,1.06)" font-size="33.5">Angular Frequency ω [s<tspan font-size="23" dy="-19">-1</tspan><tspan dy="19">]</tspan></text><text transform="translate(976.80,259.80) rotate(90) scale(1,1.06)" font-size="33.6">Period [hours]</text></g>
</svg>
</body></html>
